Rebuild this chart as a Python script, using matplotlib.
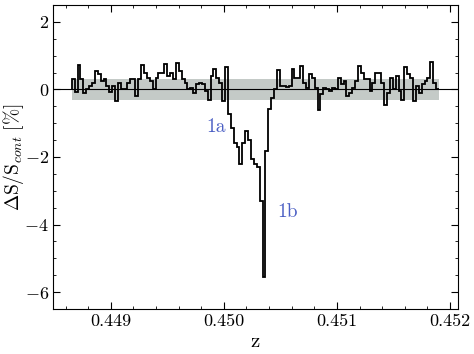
import numpy as np
import matplotlib.pyplot as plt
from matplotlib.ticker import MultipleLocator

plt.rcParams['font.family'] = 'serif'
plt.rcParams['font.serif'] = ['cmr10']
plt.rcParams['mathtext.fontset'] = 'cm'
plt.rcParams['axes.formatter.use_mathtext'] = True

# binned spectrum, relative flux change in percent
z_start = 0.448655
z_end = 0.451903
ds = [0.3, -0.08, 0.72, 0.3, -0.1, 0.0, 0.1, 0.2, 0.55, 0.45,
      0.25, 0.3, 0.1, -0.08, 0.1, -0.35, 0.2, 0.0, 0.0, 0.2,
      0.3, 0.3, -0.2, 0.3, 0.72, 0.5, 0.35, 0.25, 0.0, 0.35,
      0.5, 0.5, 0.75, 0.4, 0.5, 0.3, 0.78, 0.55, 0.3, 0.2,
      0.0, 0.05, -0.1, 0.15, 0.2, 0.15, -0.05, -0.3, 0.4, 0.6,
      0.35, 0.2, -0.35, 0.65,
      # absorption 1a / 1b
      -0.74, -1.13, -1.6, -1.7, -2.2, -1.6, -1.23, -1.5, -2.06, -2.2,
      -2.3, -3.3, -5.55, -1.82,
      -0.59, -0.25, 0.0, 0.57, 0.1, 0.1, 0.08, 0.1, 0.6, 0.35,
      0.35, 0.7, 0.2, 0.05, 0.45, 0.35, 0.05, -0.6, -0.15, 0.05,
      0.0, -0.05, 0.05, 0.0, 0.35, 0.15, 0.25, -0.2, -0.1, 0.05,
      0.25, 0.7, 0.5, 0.3, 0.3, -0.05, 0.2, 0.5, 0.5,
      0.2, -0.45, -0.1, 0.35, 0.0, 0.4, -0.05, -0.3, 0.65, 0.45,
      0.35, -0.35, 0.1, -0.1, 0.15, 0.25, 0.35, 0.82, 0.2, 0.0]
noise = 0.3  # rms band

ds = np.array(ds)
edges = np.linspace(z_start, z_end, len(ds) + 1)

fig = plt.figure(figsize=(4.74, 3.54), dpi=100)
ax = fig.add_axes([0.112, 0.127, 0.854, 0.859])

ax.fill_between([z_start, z_end], -noise, noise, color='#c4cac7', lw=0, zorder=1)
ax.axhline(0, color='black', lw=0.8, zorder=2)
ax.stairs(ds, edges, color='black', lw=1.3, zorder=3)

ax.text(0.449935, -1.12, '1a', color='#4b5fc4', fontsize=14, ha='center', va='center')
ax.text(0.450565, -3.62, '1b', color='#4b5fc4', fontsize=14, ha='center', va='center')

ax.set_xlim(0.44849, 0.45207)
ax.set_ylim(-6.5, 2.5)
ax.xaxis.set_major_locator(MultipleLocator(0.001))
ax.xaxis.set_minor_locator(MultipleLocator(0.0002))
ax.yaxis.set_major_locator(MultipleLocator(2))
ax.yaxis.set_minor_locator(MultipleLocator(0.5))
ax.xaxis.set_major_formatter(plt.FuncFormatter(lambda v, p: '%.3f' % v))
ax.tick_params(which='both', direction='in', top=True, right=True, labelsize=13)
ax.tick_params(which='major', length=5, pad=3)
ax.tick_params(which='minor', length=2.5)

ax.set_xlabel('z', fontsize=15, labelpad=3)
ax.set_ylabel(r'$\Delta\mathrm{S}/\mathrm{S}_{cont}\ [\%]$', fontsize=14)
ax.yaxis.set_label_coords(-0.066, 0.5)

fig.savefig('out.png', dpi=100)
